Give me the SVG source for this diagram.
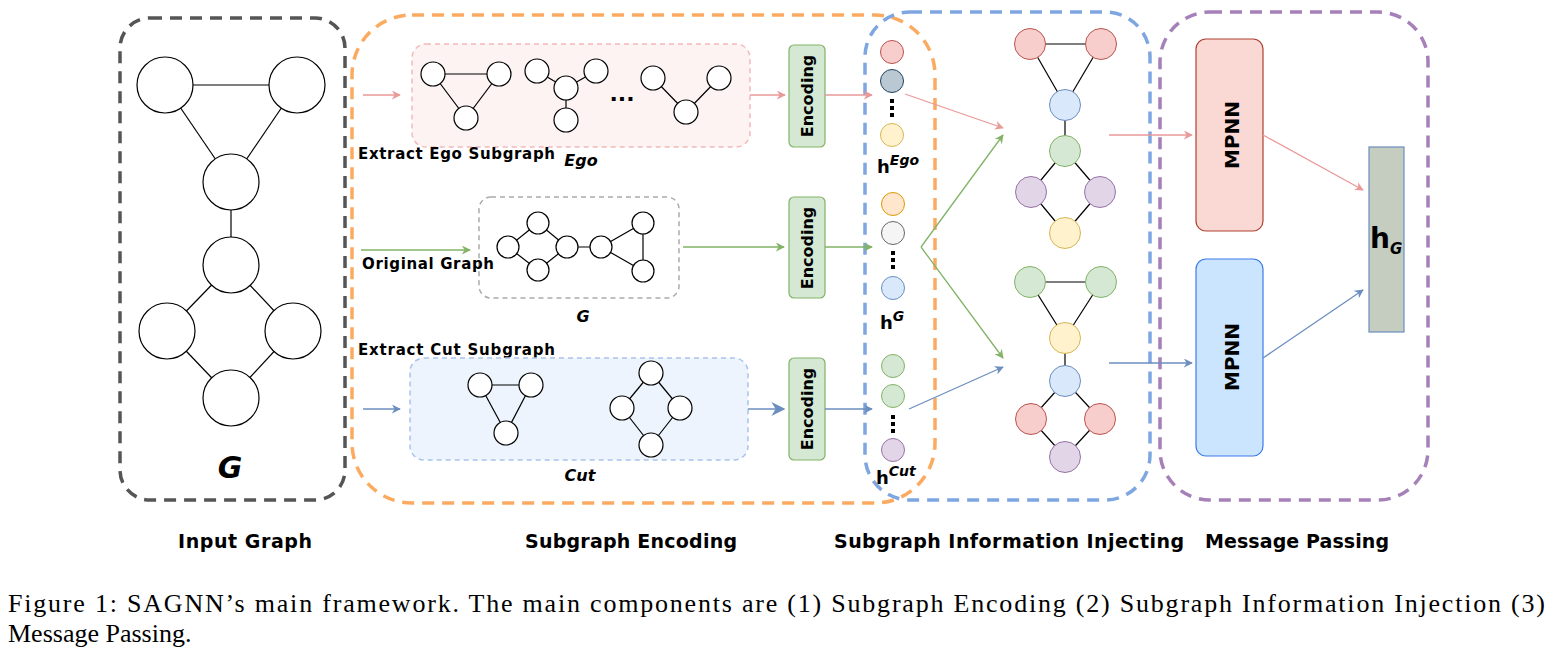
<svg xmlns="http://www.w3.org/2000/svg" width="1549" height="655" viewBox="0 0 1549 655">
<style>
.n{fill:#fff;stroke:#000;stroke-width:1.2}
.e{stroke:#000;stroke-width:1.2;fill:none}
.lbl{font-family:"DejaVu Sans",sans-serif;font-weight:bold;font-size:15px}
.it{font-family:"DejaVu Sans",sans-serif;font-weight:bold;font-style:italic}
.enc{fill:#d5e8d4;stroke:#82b366;stroke-width:1.2}
.enct{font-family:"DejaVu Sans",sans-serif;font-weight:bold;font-size:16px}
.big{font-family:"DejaVu Sans",sans-serif;font-weight:bold;font-size:19px}
.cap{font-family:"Liberation Serif",serif;font-size:26px}
.r{fill:#f8cecc;stroke:#b85450}
.y{fill:#fff2cc;stroke:#d6b656}
.b{fill:#dae8fc;stroke:#6c8ebf}
.g{fill:#d5e8d4;stroke:#82b366}
.p{fill:#e1d5e7;stroke:#9673a6}
.o{fill:#ffe6cc;stroke:#d79b00}
.gr{fill:#f5f5f5;stroke:#666}
.gb{fill:#bac8d3;stroke:#23445d}
.pk{stroke:#ea9999;stroke-width:1.3;fill:none}
.gn{stroke:#82b366;stroke-width:1.3;fill:none}
.bl{stroke:#6c8ebf;stroke-width:1.3;fill:none}
</style>
<defs>
<marker id="ap" viewBox="0 0 10 10" refX="9" refY="5" markerWidth="9" markerHeight="9" markerUnits="userSpaceOnUse" orient="auto"><path d="M0,0L10,5L0,10L3,5Z" fill="#ea9999"/></marker>
<marker id="ag" viewBox="0 0 10 10" refX="9" refY="5" markerWidth="9" markerHeight="9" markerUnits="userSpaceOnUse" orient="auto"><path d="M0,0L10,5L0,10L3,5Z" fill="#82b366"/></marker>
<marker id="ab" viewBox="0 0 10 10" refX="9" refY="5" markerWidth="9" markerHeight="9" markerUnits="userSpaceOnUse" orient="auto"><path d="M0,0L10,5L0,10L3,5Z" fill="#6c8ebf"/></marker>
<marker id="ab2" viewBox="0 0 10 10" refX="9" refY="5" markerWidth="14" markerHeight="14" markerUnits="userSpaceOnUse" orient="auto"><path d="M0,0L10,5L0,10L3,5Z" fill="#6c8ebf"/></marker>
</defs>
<rect width="1549" height="655" fill="#fff"/>

<g id="frames" fill="none" stroke-width="3.5" stroke-dasharray="12 8">
<rect x="120" y="18" width="225" height="482" rx="30" stroke="#555"/>
<rect x="352" y="15" width="583" height="488" rx="60" stroke="#fbaa60"/>
<rect x="865" y="12" width="285" height="488" rx="45" stroke="#7ea6e0"/>
<rect x="1160" y="12" width="268" height="488" rx="50" stroke="#a680b8"/>
</g>

<g id="input-graph">
<g class="e"><line x1="165" y1="85" x2="297" y2="85"/><line x1="165" y1="85" x2="231" y2="182"/><line x1="297" y1="85" x2="231" y2="182"/><line x1="231" y1="182" x2="231" y2="265"/><line x1="231" y1="265" x2="167" y2="331"/><line x1="231" y1="265" x2="293" y2="331"/><line x1="167" y1="331" x2="231" y2="398"/><line x1="293" y1="331" x2="231" y2="398"/></g>
<g class="n"><circle cx="165" cy="85" r="28"/><circle cx="297" cy="85" r="28"/><circle cx="231" cy="182" r="28"/><circle cx="231" cy="265" r="28"/><circle cx="167" cy="331" r="28"/><circle cx="293" cy="331" r="28"/><circle cx="231" cy="398" r="28"/></g>
<text x="230" y="478" class="it" style="font-size:30px" text-anchor="middle">G</text>
</g>

<g id="ego-box">
<rect x="412" y="44" width="338" height="103" rx="14" fill="#fdf3f3" stroke="#f4b9b9" stroke-width="1.5" stroke-dasharray="5 4"/>
<g class="e"><line x1="433" y1="74" x2="499" y2="74"/><line x1="433" y1="74" x2="466" y2="118"/><line x1="499" y1="74" x2="466" y2="118"/><line x1="537" y1="71" x2="566" y2="88"/><line x1="596" y1="71" x2="566" y2="88"/><line x1="566" y1="88" x2="566" y2="120"/><line x1="653" y1="78" x2="686" y2="112"/><line x1="719" y1="78" x2="686" y2="112"/></g>
<g class="n"><circle cx="433" cy="74" r="12"/><circle cx="499" cy="74" r="12"/><circle cx="466" cy="118" r="12"/><circle cx="537" cy="71" r="12"/><circle cx="596" cy="71" r="12"/><circle cx="566" cy="88" r="12"/><circle cx="566" cy="120" r="12"/><circle cx="653" cy="78" r="12"/><circle cx="719" cy="78" r="12"/><circle cx="686" cy="112" r="12"/></g>
<text x="622" y="101" class="lbl" style="font-size:22px" text-anchor="middle">...</text>
</g>
<text x="358" y="159" class="lbl" textLength="197">Extract Ego Subgraph</text>
<text x="581" y="166" class="it" style="font-size:16px" text-anchor="middle">Ego</text>

<g id="g-box">
<rect x="479" y="197" width="200" height="101" rx="12" fill="#fff" stroke="#aaa" stroke-width="1.5" stroke-dasharray="5 4"/>
<g class="e"><line x1="538" y1="223" x2="508" y2="247"/><line x1="508" y1="247" x2="538" y2="270"/><line x1="538" y1="270" x2="567" y2="247"/><line x1="567" y1="247" x2="538" y2="223"/><line x1="567" y1="247" x2="601" y2="247"/><line x1="601" y1="247" x2="643" y2="223"/><line x1="643" y1="223" x2="643" y2="271"/><line x1="601" y1="247" x2="643" y2="271"/></g>
<g class="n"><circle cx="538" cy="223" r="11"/><circle cx="508" cy="247" r="11"/><circle cx="538" cy="270" r="11"/><circle cx="567" cy="247" r="11"/><circle cx="601" cy="247" r="11"/><circle cx="643" cy="223" r="11"/><circle cx="643" cy="271" r="11"/></g>
</g>
<text x="362" y="269" class="lbl" textLength="132">Original Graph</text>
<text x="583" y="322" class="it" style="font-size:16px" text-anchor="middle">G</text>

<text x="358" y="355" class="lbl" textLength="197">Extract Cut Subgraph</text>
<g id="cut-box">
<rect x="410" y="358" width="338" height="102" rx="14" fill="#edf4fd" stroke="#a9c4eb" stroke-width="1.5" stroke-dasharray="5 4"/>
<g class="e"><line x1="480" y1="385" x2="531" y2="385"/><line x1="480" y1="385" x2="506" y2="433"/><line x1="531" y1="385" x2="506" y2="433"/><line x1="651" y1="373" x2="622" y2="408"/><line x1="651" y1="373" x2="680" y2="408"/><line x1="622" y1="408" x2="651" y2="445"/><line x1="680" y1="408" x2="651" y2="445"/></g>
<g class="n"><circle cx="480" cy="385" r="12"/><circle cx="531" cy="385" r="12"/><circle cx="506" cy="433" r="12"/><circle cx="651" cy="373" r="12"/><circle cx="622" cy="408" r="12"/><circle cx="680" cy="408" r="12"/><circle cx="651" cy="445" r="12"/></g>
</g>
<text x="580" y="481" class="it" style="font-size:16px" text-anchor="middle">Cut</text>

<g id="encoders">
<rect x="789" y="45" width="36" height="102" rx="5" class="enc"/>
<text class="enct" text-anchor="middle" transform="translate(813 96) rotate(-90)">Encoding</text>
<rect x="789" y="197" width="36" height="101" rx="5" class="enc"/>
<text class="enct" text-anchor="middle" transform="translate(813 248) rotate(-90)">Encoding</text>
<rect x="789" y="358" width="36" height="102" rx="5" class="enc"/>
<text class="enct" text-anchor="middle" transform="translate(813 409) rotate(-90)">Encoding</text>
</g>

<g id="vectors">
<circle cx="892" cy="52" r="11.5" class="r"/><circle cx="892" cy="81" r="11.5" class="gb"/><circle cx="892" cy="135" r="11.5" class="y"/>
<line x1="892" y1="99" x2="892" y2="120" stroke="#000" stroke-width="4" stroke-dasharray="4 3"/>
<text x="877" y="173" class="lbl" style="font-size:18px">h<tspan class="it" style="font-size:14px" dy="-8">Ego</tspan></text>
<circle cx="893" cy="204" r="11.5" class="o"/><circle cx="893" cy="233" r="11.5" class="gr"/><circle cx="893" cy="288" r="11.5" class="b"/>
<line x1="893" y1="251" x2="893" y2="272" stroke="#000" stroke-width="4" stroke-dasharray="4 3"/>
<text x="880" y="329" class="lbl" style="font-size:18px">h<tspan class="it" style="font-size:14px" dy="-8">G</tspan></text>
<circle cx="893" cy="366" r="11.5" class="g"/><circle cx="893" cy="396" r="11.5" class="g"/><circle cx="893" cy="450" r="11.5" class="p"/>
<line x1="893" y1="415" x2="893" y2="436" stroke="#000" stroke-width="4" stroke-dasharray="4 3"/>
<text x="876" y="484" class="lbl" style="font-size:18px">h<tspan class="it" style="font-size:14px" dy="-8">Cut</tspan></text>
</g>

<g id="inject-top">
<g class="e"><line x1="1030" y1="44" x2="1101" y2="44"/><line x1="1030" y1="44" x2="1065" y2="105"/><line x1="1101" y1="44" x2="1065" y2="105"/><line x1="1065" y1="105" x2="1065" y2="151"/><line x1="1065" y1="151" x2="1031" y2="192"/><line x1="1065" y1="151" x2="1100" y2="192"/><line x1="1031" y1="192" x2="1065" y2="233"/><line x1="1100" y1="192" x2="1065" y2="233"/></g>
<circle cx="1030" cy="44" r="15.5" class="r"/><circle cx="1101" cy="44" r="15.5" class="r"/><circle cx="1065" cy="105" r="15.5" class="b"/><circle cx="1065" cy="151" r="15.5" class="g"/><circle cx="1031" cy="192" r="15.5" class="p"/><circle cx="1100" cy="192" r="15.5" class="p"/><circle cx="1065" cy="233" r="15.5" class="y"/>
</g>
<g id="inject-bottom">
<g class="e"><line x1="1030" y1="282" x2="1101" y2="282"/><line x1="1030" y1="282" x2="1065" y2="338"/><line x1="1101" y1="282" x2="1065" y2="338"/><line x1="1065" y1="338" x2="1065" y2="381"/><line x1="1065" y1="381" x2="1031" y2="419"/><line x1="1065" y1="381" x2="1100" y2="419"/><line x1="1031" y1="419" x2="1065" y2="457"/><line x1="1100" y1="419" x2="1065" y2="457"/></g>
<circle cx="1030" cy="282" r="15.5" class="g"/><circle cx="1101" cy="282" r="15.5" class="g"/><circle cx="1065" cy="338" r="15.5" class="y"/><circle cx="1065" cy="381" r="15.5" class="b"/><circle cx="1031" cy="419" r="15.5" class="r"/><circle cx="1100" cy="419" r="15.5" class="r"/><circle cx="1065" cy="457" r="15.5" class="p"/>
</g>

<g id="mpnn-top">
<rect x="1196" y="39" width="67" height="192" rx="10" fill="#fad9d5" stroke="#ae4132" stroke-width="1.2"/>
<text class="big" style="font-size:20px" text-anchor="middle" transform="translate(1239 135) rotate(-90)">MPNN</text>
</g>
<g id="mpnn-bottom">
<rect x="1196" y="259" width="67" height="197" rx="10" fill="#cce5ff" stroke="#3d7bea" stroke-width="1.2"/>
<text class="big" style="font-size:20px" text-anchor="middle" transform="translate(1239 357) rotate(-90)">MPNN</text>
</g>
<g id="hg">
<rect x="1369" y="147" width="35" height="185" fill="#c4cdc0" stroke="#6c8ebf" stroke-width="1.2"/>
<text x="1370" y="248" class="lbl" style="font-size:28px">h<tspan class="it" style="font-size:15px" dy="6">G</tspan></text>
</g>

<g id="connectors">
<line x1="363" y1="95" x2="400" y2="95" class="pk" marker-end="url(#ap)"/>
<line x1="750" y1="95" x2="785" y2="95" class="pk" marker-end="url(#ap)"/>
<line x1="825" y1="95" x2="872" y2="95" class="pk" marker-end="url(#ap)"/>
<line x1="361" y1="250" x2="470" y2="250" class="gn" marker-end="url(#ag)"/>
<line x1="683" y1="247" x2="784" y2="247" class="gn" marker-end="url(#ag)"/>
<line x1="825" y1="247" x2="872" y2="247" class="gn" marker-end="url(#ag)"/>
<line x1="363" y1="409" x2="400" y2="409" class="bl" marker-end="url(#ab)"/>
<line x1="748" y1="409" x2="784" y2="409" class="bl" marker-end="url(#ab2)"/>
<line x1="825" y1="409" x2="872" y2="409" class="bl" marker-end="url(#ab)"/>
<line x1="905" y1="94" x2="1003" y2="128" class="pk" marker-end="url(#ap)"/>
<line x1="921" y1="247" x2="1003" y2="358" class="gn" marker-end="url(#ag)"/>
<line x1="921" y1="247" x2="1003" y2="135" class="gn" marker-end="url(#ag)"/>
<line x1="909" y1="409" x2="1003" y2="367" class="bl" marker-end="url(#ab)"/>
<line x1="1109" y1="135" x2="1192" y2="135" class="pk" marker-end="url(#ap)"/>
<line x1="1109" y1="363" x2="1192" y2="363" class="bl" marker-end="url(#ab)"/>
<line x1="1263" y1="135" x2="1363" y2="190" class="pk" marker-end="url(#ap)"/>
<line x1="1263" y1="358" x2="1363" y2="290" class="bl" marker-end="url(#ab)"/>
</g>

<g id="section-labels">
<text x="245" y="548" class="big" text-anchor="middle" textLength="134">Input Graph</text>
<text x="631" y="548" class="big" text-anchor="middle" textLength="212">Subgraph Encoding</text>
<text x="1009" y="548" class="big" text-anchor="middle" textLength="350">Subgraph Information Injecting</text>
<text x="1297" y="548" class="big" text-anchor="middle" textLength="184">Message Passing</text>
</g>
<text x="8" y="612" class="cap" textLength="1537">Figure 1: SAGNN’s main framework. The main components are (1) Subgraph Encoding (2) Subgraph Information Injection (3)</text>
<text x="8" y="642" class="cap">Message Passing.</text>
</svg>
